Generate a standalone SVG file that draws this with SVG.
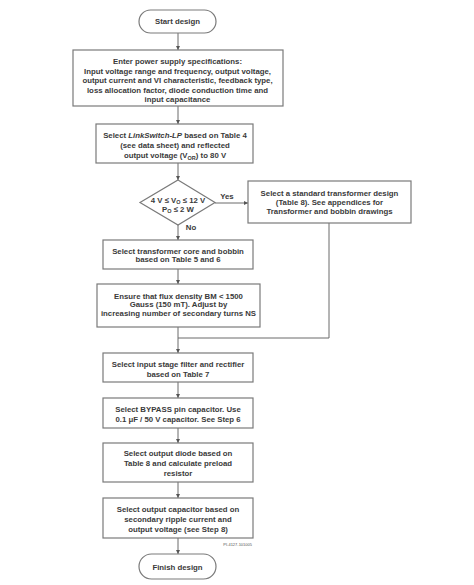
<svg xmlns="http://www.w3.org/2000/svg" width="474" height="585" viewBox="0 0 474 585">
<style>
.box{fill:#fff;stroke:#7a7a7a;stroke-width:1.2}
.t{font-family:"Liberation Sans",Arial,sans-serif;font-size:7.8px;font-weight:bold;fill:#3a3a3a;text-anchor:middle}
.c{fill:none;stroke:#6a6a6a;stroke-width:1}
.s{font-family:"Liberation Sans",Arial,sans-serif;font-size:4px;fill:#555;text-anchor:end}
</style>
<defs>
<marker id="ah" viewBox="0 0 6 6" refX="6" refY="3" markerWidth="4" markerHeight="4" orient="auto">
<path d="M0,0 L6,3 L0,6 z" fill="#555"/>
</marker>
</defs>
<rect width="474" height="585" fill="#fff"/>
<g id="connectors">
<line class="c" x1="178" y1="33" x2="178" y2="50" marker-end="url(#ah)"/>
<line class="c" x1="178" y1="106" x2="178" y2="124" marker-end="url(#ah)"/>
<line class="c" x1="178" y1="163" x2="178" y2="180" marker-end="url(#ah)"/>
<line class="c" x1="178" y1="225" x2="178" y2="240" marker-end="url(#ah)"/>
<line class="c" x1="215" y1="203" x2="248" y2="203" marker-end="url(#ah)"/>
<line class="c" x1="178" y1="269" x2="178" y2="284" marker-end="url(#ah)"/>
<line class="c" x1="178" y1="327" x2="178" y2="353" marker-end="url(#ah)"/>
<polyline class="c" points="329,223 329,338 178,338"/>
<line class="c" x1="178" y1="382" x2="178" y2="398" marker-end="url(#ah)"/>
<line class="c" x1="178" y1="428" x2="178" y2="443" marker-end="url(#ah)"/>
<line class="c" x1="178" y1="482" x2="178" y2="498" marker-end="url(#ah)"/>
<line class="c" x1="178" y1="538" x2="178" y2="554" marker-end="url(#ah)"/>
<text class="t" x="227" y="199">Yes</text>
<text class="t" x="191" y="230">No</text>
</g>
<g id="start">
<rect class="box" x="139" y="10" width="77" height="23" rx="11.5"/>
<text class="t" x="177.5" y="24">Start design</text>
</g>
<g id="specs">
<rect class="box" x="73" y="50" width="210" height="56"/>
<text class="t" x="177.5" y="63.5">Enter power supply specifications:</text>
<text class="t" x="177.5" y="73.5">Input voltage range and frequency, output voltage,</text>
<text class="t" x="177.5" y="83">output current and VI characteristic, feedback type,</text>
<text class="t" x="177.5" y="92.5">loss allocation factor, diode conduction time and</text>
<text class="t" x="177.5" y="102">input capacitance</text>
</g>
<g id="linkswitch">
<rect class="box" x="96" y="124" width="157" height="39"/>
<text class="t" x="175" y="137.5">Select <tspan font-style="italic">LinkSwitch-LP</tspan> based on Table 4</text>
<text class="t" x="175" y="147.5">(see data sheet) and reflected</text>
<text class="t" x="175" y="158">output voltage (V<tspan font-size="5.5" dy="1.5">OR</tspan><tspan dy="-1.5">) to 80 V</tspan></text>
</g>
<g id="decision">
<polygon class="box" points="178,180 215,202.5 178,225 140,202.5"/>
<text class="t" x="178" y="202.5">4 V ≤ V<tspan font-size="5.5" dy="1.5">O</tspan><tspan dy="-1.5"> ≤ 12 V</tspan></text>
<text class="t" x="178" y="211.5">P<tspan font-size="5.5" dy="1.5">O</tspan><tspan dy="-1.5"> ≤ 2 W</tspan></text>
</g>
<g id="standard">
<rect class="box" x="248" y="181" width="163" height="42"/>
<text class="t" x="329.5" y="195.5">Select a standard transformer design</text>
<text class="t" x="329.5" y="204.5">(Table 8). See appendices for</text>
<text class="t" x="329.5" y="214">Transformer and bobbin drawings</text>
</g>
<g id="core">
<rect class="box" x="103" y="240" width="150" height="29"/>
<text class="t" x="178" y="253.5">Select transformer core and bobbin</text>
<text class="t" x="178" y="262">based on Table 5 and 6</text>
</g>
<g id="flux">
<rect class="box" x="97" y="284" width="163" height="43"/>
<text class="t" x="178.5" y="298.5">Ensure that flux density BM &lt; 1500</text>
<text class="t" x="178.5" y="307">Gauss (150 mT). Adjust by</text>
<text class="t" x="178.5" y="315.5">increasing number of secondary turns NS</text>
</g>
<g id="inputstage">
<rect class="box" x="103" y="353" width="150" height="29"/>
<text class="t" x="178" y="366.5">Select input stage filter and rectifier</text>
<text class="t" x="178" y="376.5">based on Table 7</text>
</g>
<g id="bypass">
<rect class="box" x="103" y="398" width="150" height="30"/>
<text class="t" x="178" y="411.5">Select BYPASS pin capacitor. Use</text>
<text class="t" x="178" y="421.5">0.1 μF / 50 V capacitor. See Step 6</text>
</g>
<g id="diode">
<rect class="box" x="103" y="443" width="150" height="39"/>
<text class="t" x="178" y="455.5">Select output diode based on</text>
<text class="t" x="178" y="465.5">Table 8 and calculate preload</text>
<text class="t" x="178" y="475.5">resistor</text>
</g>
<g id="outcap">
<rect class="box" x="103" y="498" width="150" height="40"/>
<text class="t" x="178" y="511.5">Select output capacitor based on</text>
<text class="t" x="178" y="521.5">secondary ripple current and</text>
<text class="t" x="178" y="531.5">output voltage (see Step 8)</text>
<text class="s" x="252" y="545.5">PI-4127-101005</text>
</g>
<g id="finish">
<rect class="box" x="139" y="554" width="77" height="25" rx="12.5"/>
<text class="t" x="177.5" y="569.5">Finish design</text>
</g>
</svg>
